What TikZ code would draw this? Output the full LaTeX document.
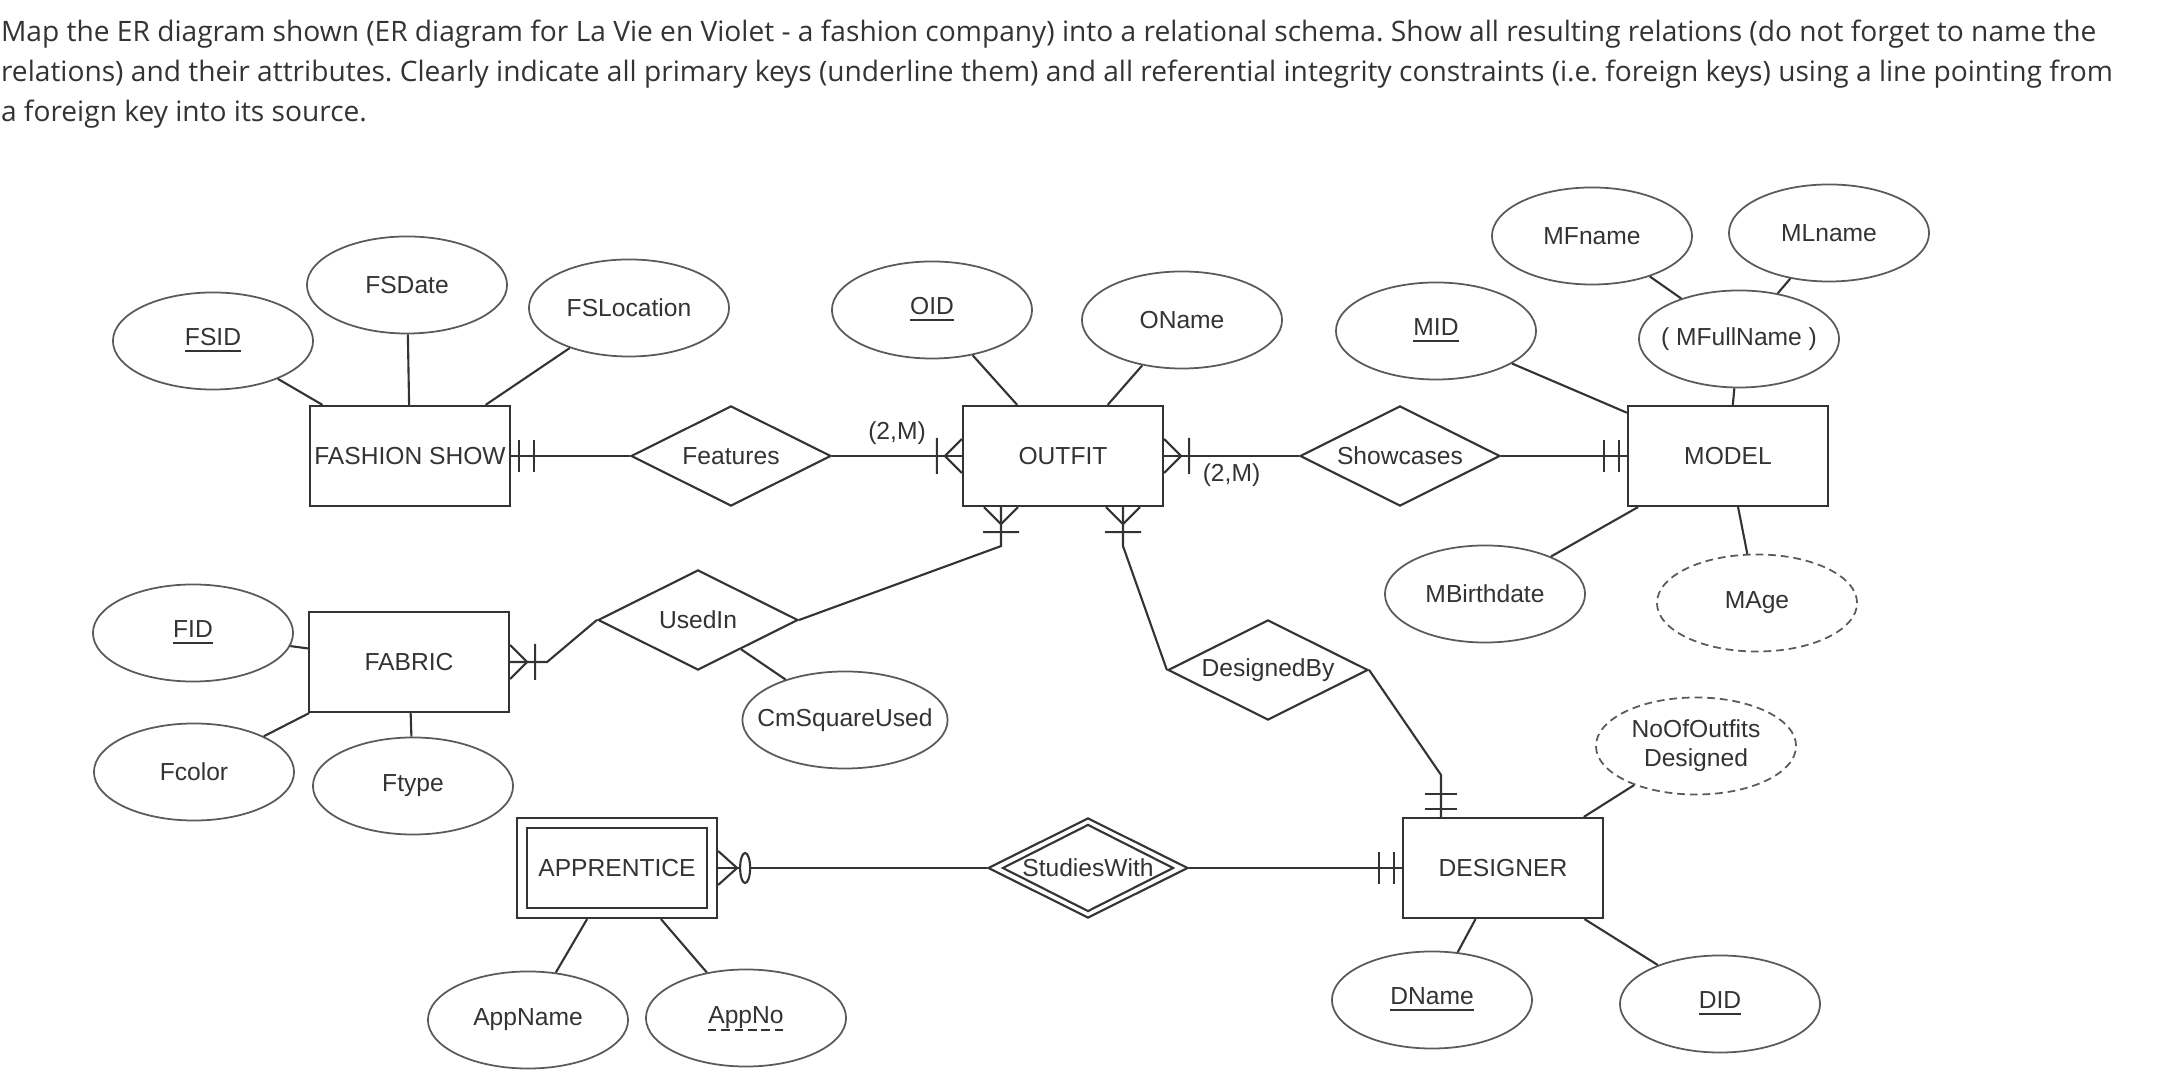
\documentclass[tikz,border=0pt]{standalone}
\usepackage{fontspec}
\setmainfont{Liberation Sans}
\newfontfamily\qfont{Open Sans}
\usetikzlibrary{calc,positioning,shapes.geometric}
\definecolor{ink}{HTML}{333333}
\definecolor{rim}{HTML}{5A5A5A}
\frenchspacing
\tikzset{
  onlyone/.pic={\draw (8,-16)--(8,16) (23,-16)--(23,16);},
  onemany/.pic={\draw (0,-17)--(17,0)--(0,17) (25,-18)--(25,18);},
  zeromany/.pic={\draw (0,-17)--(19,0)--(0,17); \filldraw[fill=white] (27,0) ellipse (5 and 15);},
}
\begin{document}
\begin{tikzpicture}[x=0.01cm, y=-0.01cm, line width=0.6pt, color=ink,
  every node/.style={font=\fontsize{7}{8.3}\selectfont},
  entity/.style={draw, rectangle, minimum width=2cm, minimum height=1cm, inner sep=0pt},
  attr/.style={draw=rim, line width=0.5pt, ellipse, minimum width=2cm, minimum height=0.97cm, inner xsep=-0.15cm, inner ysep=0pt},
  dattr/.style={attr, dash pattern=on 2.2pt off 1.4pt},
  reln/.style={draw, diamond, aspect=2, minimum width=2cm, minimum height=1cm, inner sep=0pt},
  lbl/.style={inner sep=0pt},
  instr/.style={font=\qfont\fontsize{8}{11}\selectfont, inner sep=0pt, anchor=base west}]
  \useasboundingbox (0,0) rectangle (2178,1092);
  \node[instr] (q1) at (0,42) {Map the ER diagram shown (ER diagram for La Vie en Violet - a fashion company) into a relational schema. Show all resulting relations (do not forget to name the};
  \node[instr] (q2) at (0,82) {relations) and their attributes. Clearly indicate all primary keys (underline them) and all referential integrity constraints (i.e. foreign keys) using a line pointing from};
  \node[instr] (q3) at (0,122) {a foreign key into its source.};

  \node[entity] (fs) at (410,456) {FASHION SHOW};
  \node[entity] (outfit) at (1063,456) {OUTFIT};
  \node[entity] (model) at (1728,456) {MODEL};
  \node[entity] (fabric) at (409,662) {FABRIC};
  \node[entity] (app) at (617,868) {APPRENTICE};
  \draw ([shift={(11,11)}]app.north west) rectangle ([shift={(-11,-11)}]app.south east);
  \node[entity] (dsg) at (1503,868) {DESIGNER};

  \node[reln] (feat) at (731,456) {Features};
  \node[reln] (show) at (1400,456) {Showcases};
  \node[reln] (usedin) at (698,620) {UsedIn};
  \node[reln] (dby) at (1268,670) {DesignedBy};
  \node[reln] (sw) at (1088,868) {StudiesWith};
  \draw ($(sw.west)+(16,0)$)--($(sw.north)+(0,8)$)--($(sw.east)+(-16,0)$)--($(sw.south)+(0,-8)$)--cycle;

  \node[attr] (fsid) at (213,341) {\underline{FSID}};
  \node[attr] (fsdate) at (407,285) {FSDate};
  \node[attr] (fsloc) at (629,308) {FSLocation};
  \node[attr] (oid) at (932,310) {\underline{OID}};
  \node[attr] (oname) at (1182,320) {OName};
  \node[attr] (mid) at (1436,331) {\underline{MID}};
  \node[attr] (mfname) at (1592,236) {MFname};
  \node[attr] (mlname) at (1829,233) {MLname};
  \node[attr] (mfull) at (1739,339) {( MFullName )};
  \node[attr] (mbirth) at (1485,594) {MBirthdate};
  \node[dattr] (mage) at (1757,603) {MAge};
  \node[dattr, align=center] (noout) at (1696,746) {NoOfOutfits\\Designed};
  \node[attr] (fid) at (193,633) {\underline{FID}};
  \node[attr] (fcolor) at (194,772) {Fcolor};
  \node[attr] (ftype) at (413,786) {Ftype};
  \node[attr] (cmsq) at (845,720) {CmSquareUsed};
  \node[attr] (appname) at (528,1020) {AppName};
  \node[attr] (appno) at (746,1018) {AppNo};
  \draw[line width=0.5pt, dash pattern=on 2.4pt off 1.4pt] ($(appno.base)+(-38,6)$)--($(appno.base)+(38,6)$);
  \node[attr] (dname) at (1432,1000) {\underline{DName}};
  \node[attr] (did) at (1720,1004) {\underline{DID}};

  \draw (fsid)--(fs);
  \draw (fsdate)--(fs);
  \draw (fsloc)--(fs);
  \draw (oid)--(outfit);
  \draw (oname)--(outfit);
  \draw (mid)--(model);
  \draw (mfull)--(model);
  \draw (mfname)--(mfull);
  \draw (mlname)--(mfull);
  \draw (mbirth)--(model);
  \draw (mage)--(model);
  \draw (noout)--(dsg);
  \draw (fid)--(fabric);
  \draw (fcolor)--(fabric);
  \draw (ftype)--(fabric);
  \draw (cmsq)--(usedin);
  \draw (appname)--(app);
  \draw (appno)--(app);
  \draw (dname)--(dsg);
  \draw (did)--(dsg);

  \draw (fs)--(feat);
  \draw (feat)--(outfit) node[lbl, midway, above=3pt] {(2,M)};
  \draw (outfit)--(show) node[lbl, midway, below=2pt] {(2,M)};
  \draw (show)--(model);
  \coordinate (ou) at ($(outfit.south)+(-62,0)$);
  \coordinate (od) at ($(outfit.south)+(60,0)$);
  \draw (ou)--++(0,39)--(usedin.east);
  \draw (od)--++(0,39)--(dby.west);
  \draw (fabric.east)--++(37,0)--(usedin.west);
  \coordinate (dn) at ($(dsg.north)+(-62,0)$);
  \draw (dby.east)--($(dn)+(0,-42)$)--(dn);
  \draw (app)--(sw);
  \draw (sw)--(dsg);

  \pic at (fs.east) {onlyone};
  \pic[rotate=180] at (outfit.west) {onemany};
  \pic at (outfit.east) {onemany};
  \pic[rotate=180] at (model.west) {onlyone};
  \pic[rotate=-90] at (ou) {onemany};
  \pic[rotate=-90] at (od) {onemany};
  \pic at (fabric.east) {onemany};
  \pic[rotate=90] at (dn) {onlyone};
  \pic[rotate=180] at (dsg.west) {onlyone};
  \pic at (app.east) {zeromany};
\end{tikzpicture}
\end{document}
